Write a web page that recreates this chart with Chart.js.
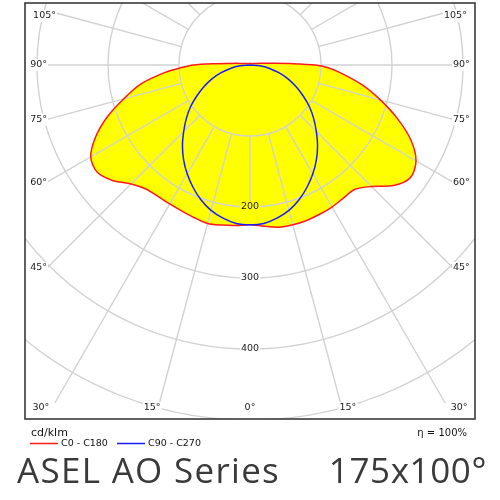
<!DOCTYPE html>
<html>
<head>
<meta charset="utf-8">
<script src="https://cdn.jsdelivr.net/npm/chart.js@4/dist/chart.umd.min.js"></script>
<style>
html,body{margin:0;padding:0;background:#fff;}
#wrap{width:500px;height:500px;}
</style>
</head>
<body>
<div id="wrap"><canvas id="c" width="500" height="500"></canvas></div>
<script>
// ---- data (cd/klm) ----
const gammaRed = [0,5,10,15,20,25,30,35,40,45,50,55,60,65,70,75,80,85,88,90,92,95,100,110,130,180];
const c0   = [225,228,232,233,233,232,231,229,229,242,264,276,270,250,221,190,160,128,110,92,57,28,14,6,3,2.5];
const c180 = [225,227,229,231,229,227,226,226,228,237,253,263,259,240,214,184,157,120,95,80,52,26,13,6,3,2.5];
const gammaBlue = [0,5,10,15,20,25,30,35,40,45,50,55,60,65,70,75,80,85,90];
const c90  = [225,224,219,212,202,190,177,163,148,132,117,102,86,71,57,42,28,14,0];
const c270 = [225,224,219,212,202,190,177,163,148,132,117,102,86,71,57,42,28,14,0];
const ringValues = [100,200,300,400,500,600];
const ringLabels = [200,300,400];
const angleTicks = [0,15,30,45,60,75,90,105];
const spokeAngles = [0,15,30,45,60,75,90,105,120,135,150,165,180];
const seriesNames = ['C0 - C180','C90 - C270'];
const unitLabel = 'cd/klm';
const effLabel = 'η = 100%';
const titleLeft = 'ASEL AO Series';
const titleRight = '175x100°';

const rad = d => d*Math.PI/180;
function polarPath(gam, right, left){
  const pts = [];
  for (let i = gam.length-1; i >= 0; i--) pts.push({x:-left[i]*Math.sin(rad(gam[i])), y:-left[i]*Math.cos(rad(gam[i]))});
  for (let i = 1; i < gam.length; i++) pts.push({x:right[i]*Math.sin(rad(gam[i])), y:-right[i]*Math.cos(rad(gam[i]))});
  return pts;
}
const redPts = polarPath(gammaRed, c0, c180);
const bluePts = polarPath(gammaBlue, c90, c270);

const GRID = '#d2d2d2';
const LABEL_FONT = '9.5px "DejaVu Sans"';

const gridPlugin = {
  id: 'polarGrid',
  afterDatasetDraw(chart, args){
    if (args.index !== 0) return;
    const ctx = chart.ctx, a = chart.chartArea;
    const xs = chart.scales.x, ys = chart.scales.y;
    const ox = xs.getPixelForValue(0), oy = ys.getPixelForValue(0);
    const ppu = (xs.getPixelForValue(100) - ox)/100;
    const inset = {l:a.left+22, r:a.right-22, t:a.top+10, b:a.bottom-16};
    ctx.save();
    ctx.font = LABEL_FONT;
    const labels = [];
    const ends = {};
    for (const s of [-1,1]) {
      for (const g of angleTicks) {
        if (g === 0 && s === 1) continue;
        const dx = s*Math.sin(rad(g)), dy = Math.cos(rad(g));
        let t = Infinity, side = 'side';
        if (dx < -1e-9) { const tt = (inset.l-ox)/dx; if (tt < t) { t = tt; side='side'; } }
        if (dx > 1e-9) { const tt = (inset.r-ox)/dx; if (tt < t) { t = tt; side='side'; } }
        if (dy > 1e-9) { const tt = (inset.b-oy)/dy; if (tt < t) { t = tt; side='bottom'; } }
        if (dy < -1e-9) { const tt = (inset.t-oy)/dy; if (tt < t) { t = tt; side='top'; } }
        const ex = ox+dx*t, ey = oy+dy*t;
        ends[s+':'+g] = t;
        let lx, ly, align;
        if (side === 'bottom') { align='center'; lx = ex + s*28*Math.sin(rad(g)); ly = ey+5; }
        else { align = s<0 ? 'right' : 'left'; lx = ex; ly = Math.max(ey, a.top+13); }
        const w = ctx.measureText(g+'°').width;
        const x0 = align==='center' ? lx-w/2 : (align==='right' ? lx-w : lx);
        labels.push({text:g+'°', x:lx, y:ly, align, box:[x0-1, ly-6, w+2, 12]});
      }
    }
    for (const v of ringLabels) {
      const ly = oy + v*ppu;
      const w = ctx.measureText(String(v)).width;
      labels.push({text:String(v), x:ox, y:ly, align:'center', box:[ox-w/2-1, ly-6, w+2, 12]});
    }
    ctx.beginPath();
    ctx.rect(a.left, a.top, a.right-a.left, a.bottom-a.top);
    for (const L of labels) ctx.rect(L.box[0], L.box[1], L.box[2], L.box[3]);
    ctx.clip('evenodd');
    ctx.strokeStyle = GRID; ctx.lineWidth = 1.4;
    for (const v of ringValues) {
      ctx.beginPath(); ctx.arc(ox, oy, v*ppu, 0, Math.PI*2); ctx.stroke();
    }
    const r0 = ringValues[0]*ppu;
    for (const s of [-1,1]) {
      for (const g of spokeAngles) {
        if ((g === 0 || g === 180) && s === 1) continue;
        const dx = s*Math.sin(rad(g)), dy = Math.cos(rad(g));
        let t = ends[s+':'+g] !== undefined ? ends[s+':'+g] : 1000;
        if (g === 0) t = ringLabels[0]*ppu - 6; // centre spoke stops at the first ring label
        ctx.beginPath(); ctx.moveTo(ox+dx*r0, oy+dy*r0); ctx.lineTo(ox+dx*t, oy+dy*t); ctx.stroke();
      }
    }
    ctx.restore();
    ctx.save();
    ctx.font = LABEL_FONT; ctx.fillStyle = '#1a1a1a'; ctx.textBaseline = 'middle';
    for (const L of labels) { ctx.textAlign = L.align; ctx.fillText(L.text, L.x, L.y); }
    ctx.restore();
  },
  afterDraw(chart){
    const ctx = chart.ctx, a = chart.chartArea;
    ctx.save();
    ctx.strokeStyle = '#3a3a3a'; ctx.lineWidth = 1.6;
    ctx.strokeRect(a.left, a.top, a.right-a.left, a.bottom-a.top);
    ctx.fillStyle = '#111'; ctx.textBaseline = 'middle';
    ctx.font = '11px "DejaVu Sans"'; ctx.textAlign = 'left';
    ctx.fillText(unitLabel, 31, 433);
    ctx.font = '10px "DejaVu Sans"'; ctx.textAlign = 'right';
    ctx.fillText(effLabel, 467, 433);
    const ds = chart.data.datasets;
    const items = [{ds:ds[1], x:30}, {ds:ds[2], x:117}];
    ctx.font = '9.5px "DejaVu Sans"'; ctx.textAlign = 'left';
    for (const it of items) {
      ctx.strokeStyle = it.ds.borderColor; ctx.lineWidth = 1.5;
      ctx.beginPath(); ctx.moveTo(it.x, 443.5); ctx.lineTo(it.x+28, 443.5); ctx.stroke();
      ctx.fillStyle = '#111';
      ctx.fillText(it.ds.label, it.x+31, 444);
    }
    ctx.fillStyle = '#3a3a3a'; ctx.textBaseline = 'alphabetic';
    ctx.font = '35px "Open Sans"';
    ctx.letterSpacing = '1.3px';
    ctx.textAlign = 'left'; ctx.fillText(titleLeft, 17, 483);
    ctx.letterSpacing = '0.6px';
    ctx.textAlign = 'right'; ctx.fillText(titleRight, 487, 483);
    ctx.restore();
  }
};

new Chart(document.getElementById('c'), {
  type: 'scatter',
  data: {
    datasets: [
      {label:'fill', data: redPts, showLine:true, fill:'shape', backgroundColor:'#ffff00', borderWidth:0, borderColor:'rgba(0,0,0,0)', pointRadius:0, tension:0.3, order:3},
      {label: seriesNames[0], data: redPts, showLine:true, fill:false, borderColor:'#ff1a1a', borderWidth:1.5, pointRadius:0, tension:0.3, order:2},
      {label: seriesNames[1], data: bluePts, showLine:true, fill:false, borderColor:'#1a1aff', borderWidth:1.5, pointRadius:0, tension:0.35, order:1}
    ]
  },
  options: {
    responsive:false, animation:false, devicePixelRatio:1,
    layout:{padding:{left:25, right:25, top:3, bottom:81}},
    plugins:{legend:{display:false}, tooltip:{enabled:false}},
    scales:{
      x:{type:'linear', min:-316.9, max:316.9, display:false},
      y:{type:'linear', min:-498.6, max:87.3, display:false}
    }
  },
  plugins:[gridPlugin]
});
</script>
</body>
</html>
